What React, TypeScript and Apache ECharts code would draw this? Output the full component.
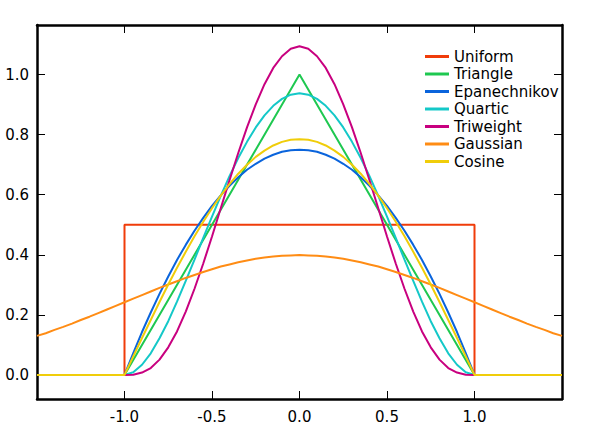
import React, { useEffect, useRef } from "react";
import * as echarts from "echarts";

const seriesNames = ["Uniform", "Triangle", "Epanechnikov", "Quartic", "Triweight", "Gaussian", "Cosine"];
const colors = ["#f03c0a", "#1ec850", "#0a64dc", "#14c8c8", "#c8007f", "#ff8c14", "#f0cd0a"];

const xTicks = [-1.0, -0.5, 0.0, 0.5, 1.0];
const yTicks = [0.0, 0.2, 0.4, 0.6, 0.8, 1.0];

const xUniform = [-1.5, -1.0, -1.0, 1.0, 1.0, 1.5];
const uniform = [0, 0, 0.5, 0.5, 0, 0];

const xTriangle = [-1.5, -1.0, 0, 1.0, 1.5];
const triangle = [0, 0, 1, 0, 0];

const xCompact = [-1.5, -1.0, -0.95, -0.9, -0.85, -0.8, -0.75, -0.7, -0.65, -0.6, -0.55, -0.5, -0.45, -0.4, -0.35, -0.3, -0.25, -0.2, -0.15, -0.1, -0.05, 0, 0.05, 0.1, 0.15, 0.2, 0.25, 0.3, 0.35, 0.4, 0.45, 0.5, 0.55, 0.6, 0.65, 0.7, 0.75, 0.8, 0.85, 0.9, 0.95, 1.0, 1.5];

const epanechnikov = [0, 0, 0.073, 0.143, 0.208, 0.27, 0.328, 0.383, 0.433, 0.48, 0.523, 0.563, 0.598, 0.63, 0.658, 0.683, 0.703, 0.72, 0.733, 0.743, 0.748, 0.75, 0.748, 0.743, 0.733, 0.72, 0.703, 0.683, 0.658, 0.63, 0.598, 0.563, 0.523, 0.48, 0.433, 0.383, 0.328, 0.27, 0.208, 0.143, 0.073, 0, 0];

const quartic = [0, 0, 0.009, 0.034, 0.072, 0.122, 0.179, 0.244, 0.313, 0.384, 0.456, 0.527, 0.596, 0.662, 0.722, 0.776, 0.824, 0.864, 0.896, 0.919, 0.933, 0.938, 0.933, 0.919, 0.896, 0.864, 0.824, 0.776, 0.722, 0.662, 0.596, 0.527, 0.456, 0.384, 0.313, 0.244, 0.179, 0.122, 0.072, 0.034, 0.009, 0, 0];

const triweight = [0, 0, 0.001, 0.008, 0.023, 0.051, 0.092, 0.145, 0.211, 0.287, 0.371, 0.461, 0.555, 0.648, 0.739, 0.824, 0.901, 0.968, 1.022, 1.061, 1.086, 1.094, 1.086, 1.061, 1.022, 0.968, 0.901, 0.824, 0.739, 0.648, 0.555, 0.461, 0.371, 0.287, 0.211, 0.145, 0.092, 0.051, 0.023, 0.008, 0.001, 0, 0];

const cosine = [0, 0, 0.062, 0.123, 0.183, 0.243, 0.301, 0.357, 0.41, 0.462, 0.51, 0.555, 0.597, 0.635, 0.67, 0.7, 0.726, 0.747, 0.764, 0.776, 0.783, 0.785, 0.783, 0.776, 0.764, 0.747, 0.726, 0.7, 0.67, 0.635, 0.597, 0.555, 0.51, 0.462, 0.41, 0.357, 0.301, 0.243, 0.183, 0.123, 0.062, 0, 0];

const xGauss = [-1.5, -1.45, -1.4, -1.35, -1.3, -1.25, -1.2, -1.15, -1.1, -1.05, -1.0, -0.95, -0.9, -0.85, -0.8, -0.75, -0.7, -0.65, -0.6, -0.55, -0.5, -0.45, -0.4, -0.35, -0.3, -0.25, -0.2, -0.15, -0.1, -0.05, 0, 0.05, 0.1, 0.15, 0.2, 0.25, 0.3, 0.35, 0.4, 0.45, 0.5, 0.55, 0.6, 0.65, 0.7, 0.75, 0.8, 0.85, 0.9, 0.95, 1.0, 1.05, 1.1, 1.15, 1.2, 1.25, 1.3, 1.35, 1.4, 1.45, 1.5];

const gaussian = [0.13, 0.139, 0.15, 0.16, 0.171, 0.183, 0.194, 0.206, 0.218, 0.23, 0.242, 0.254, 0.266, 0.278, 0.29, 0.301, 0.312, 0.323, 0.333, 0.343, 0.352, 0.361, 0.368, 0.375, 0.381, 0.387, 0.391, 0.394, 0.397, 0.398, 0.399, 0.398, 0.397, 0.394, 0.391, 0.387, 0.381, 0.375, 0.368, 0.361, 0.352, 0.343, 0.333, 0.323, 0.312, 0.301, 0.29, 0.278, 0.266, 0.254, 0.242, 0.23, 0.218, 0.206, 0.194, 0.183, 0.171, 0.16, 0.15, 0.139, 0.13];

const pair = (xs: number[], ys: number[]) => xs.map((x, i) => [x, ys[i]]);

const seriesData = [
  pair(xUniform, uniform),
  pair(xTriangle, triangle),
  pair(xCompact, epanechnikov),
  pair(xCompact, quartic),
  pair(xCompact, triweight),
  pair(xGauss, gaussian),
  pair(xCompact, cosine),
];

const FONT = "DejaVu Sans";

export default function App() {
  const ref = useRef<HTMLDivElement>(null);
  useEffect(() => {
    document.body.style.margin = "0";
    const chart = echarts.init(ref.current!, null, { renderer: "svg" });
    const mkTick = (vals: number[]) => ({
      show: true,
      inside: true,
      length: 8,
      customValues: vals,
      lineStyle: { color: "#000", width: 1 },
    });
    const mkLine = () => ({ show: true, onZero: false, lineStyle: { color: "#000", width: 2.5 } });
    chart.setOption({
      animation: false,
      backgroundColor: "#fff",
      grid: { left: 37, right: 38, top: 25, bottom: 33, show: false },
      legend: {
        orient: "vertical",
        left: 425,
        top: 49,
        padding: 0,
        itemGap: 2.5,
        itemWidth: 24,
        itemHeight: 3,
        icon: "rect",
        data: seriesNames,
        textStyle: { fontFamily: FONT, fontSize: 15, color: "#000", lineHeight: 15 },
      },
      xAxis: [
        {
          type: "value",
          min: -1.5,
          max: 1.5,
          interval: 0.5,
          axisLine: mkLine(),
          axisTick: mkTick(xTicks),
          splitLine: { show: false },
          axisLabel: {
            customValues: xTicks,
            color: "#000",
            fontFamily: FONT,
            fontSize: 15,
            margin: 10,
            formatter: (v: number) => v.toFixed(1),
          },
        },
        {
          type: "value",
          position: "top",
          min: -1.5,
          max: 1.5,
          interval: 0.5,
          axisLine: mkLine(),
          axisTick: mkTick(xTicks),
          splitLine: { show: false },
          axisLabel: { show: false },
        },
      ],
      yAxis: [
        {
          type: "value",
          min: -0.08,
          max: 1.165,
          axisLine: mkLine(),
          axisTick: mkTick(yTicks),
          splitLine: { show: false },
          axisLabel: {
            customValues: yTicks,
            color: "#000",
            fontFamily: FONT,
            fontSize: 15,
            margin: 8,
            formatter: (v: number) => v.toFixed(1),
          },
        },
        {
          type: "value",
          position: "right",
          min: -0.08,
          max: 1.165,
          axisLine: mkLine(),
          axisTick: mkTick(yTicks),
          splitLine: { show: false },
          axisLabel: { show: false },
        },
      ],
      series: seriesNames.map((name, i) => ({
        name,
        type: "line",
        xAxisIndex: 0,
        yAxisIndex: 0,
        data: seriesData[i],
        showSymbol: false,
        symbol: "none",
        lineStyle: { color: colors[i], width: 2 },
        itemStyle: { color: colors[i] },
        emphasis: { disabled: true },
      })),
    });
    return () => chart.dispose();
  }, []);
  return <div ref={ref} style={{ width: 600, height: 432 }} />;
}
